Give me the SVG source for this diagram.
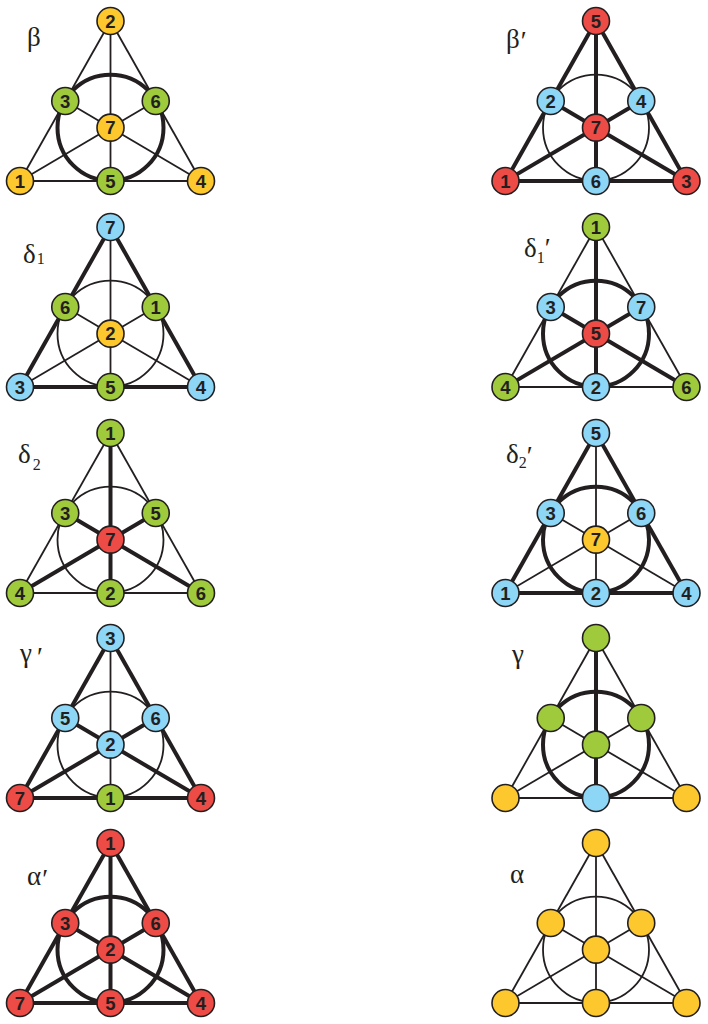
<svg xmlns="http://www.w3.org/2000/svg" width="708" height="1024" viewBox="0 0 708 1024">
<style>
.t{stroke:#231f20;stroke-width:1.8;fill:none}
.k{stroke:#231f20;stroke-width:4;fill:none}
.n circle{stroke:#231f20;stroke-width:1.6}
.y{fill:#fcc82e}.g{fill:#9fca3c}.b{fill:#8dd6f6}.r{fill:#ed4b45}
.n text{font-family:"Liberation Sans",Arial,sans-serif;font-weight:bold;font-size:18.5px;text-anchor:middle;fill:#231f20}
.lbl{font-family:"Liberation Serif","Times New Roman",serif;font-size:27px;fill:#231f20}
.sub{font-family:"Liberation Serif","Times New Roman",serif;font-size:16px;fill:#231f20}
</style>
<rect width="708" height="1024" fill="#ffffff"/>
<g id="connectors">
 <g id="c-beta" transform="translate(20,21)">
  <path class="t" d="M90.5 0L0 160"/><path class="t" d="M90.5 0L181 160"/><path class="t" d="M0 160H181"/>
  <path class="t" d="M90.5 0V160"/><path class="t" d="M0 160L135.75 80"/><path class="t" d="M181 160L45.25 80"/>
  <circle class="k" cx="90.5" cy="106.67" r="53"/>
 </g>
 <g id="c-betap" transform="translate(505.5,21)">
  <path class="k" d="M90.5 0L0 160"/><path class="k" d="M90.5 0L181 160"/><path class="k" d="M0 160H181"/>
  <path class="k" d="M90.5 0V160"/><path class="k" d="M0 160L135.75 80"/><path class="k" d="M181 160L45.25 80"/>
  <circle class="t" cx="90.5" cy="106.67" r="53"/>
 </g>
 <g id="c-delta1" transform="translate(20,227)">
  <path class="k" d="M90.5 0L0 160"/><path class="k" d="M90.5 0L181 160"/><path class="k" d="M0 160H181"/>
  <path class="t" d="M90.5 0V160"/><path class="t" d="M0 160L135.75 80"/><path class="t" d="M181 160L45.25 80"/>
  <circle class="t" cx="90.5" cy="106.67" r="53"/>
 </g>
 <g id="c-delta1p" transform="translate(505.5,227)">
  <path class="t" d="M90.5 0L0 160"/><path class="t" d="M90.5 0L181 160"/><path class="t" d="M0 160H181"/>
  <path class="k" d="M90.5 0V160"/><path class="k" d="M0 160L135.75 80"/><path class="k" d="M181 160L45.25 80"/>
  <circle class="k" cx="90.5" cy="106.67" r="53"/>
 </g>
 <g id="c-delta2" transform="translate(20,433)">
  <path class="t" d="M90.5 0L0 160"/><path class="t" d="M90.5 0L181 160"/><path class="t" d="M0 160H181"/>
  <path class="k" d="M90.5 0V160"/><path class="k" d="M0 160L135.75 80"/><path class="k" d="M181 160L45.25 80"/>
  <circle class="t" cx="90.5" cy="106.67" r="53"/>
 </g>
 <g id="c-delta2p" transform="translate(505.5,433)">
  <path class="k" d="M90.5 0L0 160"/><path class="k" d="M90.5 0L181 160"/><path class="k" d="M0 160H181"/>
  <path class="t" d="M90.5 0V160"/><path class="t" d="M0 160L135.75 80"/><path class="t" d="M181 160L45.25 80"/>
  <circle class="k" cx="90.5" cy="106.67" r="53"/>
 </g>
 <g id="c-gammap" transform="translate(20,638)">
  <path class="k" d="M90.5 0L0 160"/><path class="k" d="M90.5 0L181 160"/><path class="k" d="M0 160H181"/>
  <path class="t" d="M90.5 0V160"/><path class="k" d="M0 160L135.75 80"/><path class="k" d="M181 160L45.25 80"/>
  <circle class="t" cx="90.5" cy="106.67" r="53"/>
 </g>
 <g id="c-gamma" transform="translate(505.5,638)">
  <path class="t" d="M90.5 0L0 160"/><path class="t" d="M90.5 0L181 160"/><path class="t" d="M0 160H181"/>
  <path class="k" d="M90.5 0V160"/><path class="t" d="M0 160L135.75 80"/><path class="t" d="M181 160L45.25 80"/>
  <circle class="k" cx="90.5" cy="106.67" r="53"/>
 </g>
 <g id="c-alphap" transform="translate(20,843)">
  <path class="k" d="M90.5 0L0 160"/><path class="k" d="M90.5 0L181 160"/><path class="k" d="M0 160H181"/>
  <path class="k" d="M90.5 0V160"/><path class="k" d="M0 160L135.75 80"/><path class="k" d="M181 160L45.25 80"/>
  <circle class="k" cx="90.5" cy="106.67" r="53"/>
 </g>
 <g id="c-alpha" transform="translate(505.5,843)">
  <path class="t" d="M90.5 0L0 160"/><path class="t" d="M90.5 0L181 160"/><path class="t" d="M0 160H181"/>
  <path class="t" d="M90.5 0V160"/><path class="t" d="M0 160L135.75 80"/><path class="t" d="M181 160L45.25 80"/>
  <circle class="t" cx="90.5" cy="106.67" r="53"/>
 </g>
</g>

<g id="beta" transform="translate(20,21)">
 <g id="beta-2" class="n"><circle class="y" cx="90.5" cy="0" r="13.5"/><text x="90.5" y="6.6">2</text></g>
 <g id="beta-3" class="n"><circle class="g" cx="45.25" cy="80" r="13.5"/><text x="45.25" y="86.6">3</text></g>
 <g id="beta-6" class="n"><circle class="g" cx="135.75" cy="80" r="13.5"/><text x="135.75" y="86.6">6</text></g>
 <g id="beta-7" class="n"><circle class="y" cx="90.5" cy="106.67" r="13.5"/><text x="90.5" y="113.2">7</text></g>
 <g id="beta-1" class="n"><circle class="y" cx="0" cy="160" r="13.5"/><text x="0" y="166.6">1</text></g>
 <g id="beta-5" class="n"><circle class="g" cx="90.5" cy="160" r="13.5"/><text x="90.5" y="166.6">5</text></g>
 <g id="beta-4" class="n"><circle class="y" cx="181" cy="160" r="13.5"/><text x="181" y="166.6">4</text></g>
</g>
<g id="betap" transform="translate(505.5,21)">
 <g id="betap-5" class="n"><circle class="r" cx="90.5" cy="0" r="13.5"/><text x="90.5" y="6.6">5</text></g>
 <g id="betap-2" class="n"><circle class="b" cx="45.25" cy="80" r="13.5"/><text x="45.25" y="86.6">2</text></g>
 <g id="betap-4" class="n"><circle class="b" cx="135.75" cy="80" r="13.5"/><text x="135.75" y="86.6">4</text></g>
 <g id="betap-7" class="n"><circle class="r" cx="90.5" cy="106.67" r="13.5"/><text x="90.5" y="113.2">7</text></g>
 <g id="betap-1" class="n"><circle class="r" cx="0" cy="160" r="13.5"/><text x="0" y="166.6">1</text></g>
 <g id="betap-6" class="n"><circle class="b" cx="90.5" cy="160" r="13.5"/><text x="90.5" y="166.6">6</text></g>
 <g id="betap-3" class="n"><circle class="r" cx="181" cy="160" r="13.5"/><text x="181" y="166.6">3</text></g>
</g>
<g id="delta1" transform="translate(20,227)">
 <g id="delta1-7" class="n"><circle class="b" cx="90.5" cy="0" r="13.5"/><text x="90.5" y="6.6">7</text></g>
 <g id="delta1-6" class="n"><circle class="g" cx="45.25" cy="80" r="13.5"/><text x="45.25" y="86.6">6</text></g>
 <g id="delta1-1" class="n"><circle class="g" cx="135.75" cy="80" r="13.5"/><text x="135.75" y="86.6">1</text></g>
 <g id="delta1-2" class="n"><circle class="y" cx="90.5" cy="106.67" r="13.5"/><text x="90.5" y="113.2">2</text></g>
 <g id="delta1-3" class="n"><circle class="b" cx="0" cy="160" r="13.5"/><text x="0" y="166.6">3</text></g>
 <g id="delta1-5" class="n"><circle class="g" cx="90.5" cy="160" r="13.5"/><text x="90.5" y="166.6">5</text></g>
 <g id="delta1-4" class="n"><circle class="b" cx="181" cy="160" r="13.5"/><text x="181" y="166.6">4</text></g>
</g>
<g id="delta1p" transform="translate(505.5,227)">
 <g id="delta1p-1" class="n"><circle class="g" cx="90.5" cy="0" r="13.5"/><text x="90.5" y="6.6">1</text></g>
 <g id="delta1p-3" class="n"><circle class="b" cx="45.25" cy="80" r="13.5"/><text x="45.25" y="86.6">3</text></g>
 <g id="delta1p-7" class="n"><circle class="b" cx="135.75" cy="80" r="13.5"/><text x="135.75" y="86.6">7</text></g>
 <g id="delta1p-5" class="n"><circle class="r" cx="90.5" cy="106.67" r="13.5"/><text x="90.5" y="113.2">5</text></g>
 <g id="delta1p-4" class="n"><circle class="g" cx="0" cy="160" r="13.5"/><text x="0" y="166.6">4</text></g>
 <g id="delta1p-2" class="n"><circle class="b" cx="90.5" cy="160" r="13.5"/><text x="90.5" y="166.6">2</text></g>
 <g id="delta1p-6" class="n"><circle class="g" cx="181" cy="160" r="13.5"/><text x="181" y="166.6">6</text></g>
</g>
<g id="delta2" transform="translate(20,433)">
 <g id="delta2-1" class="n"><circle class="g" cx="90.5" cy="0" r="13.5"/><text x="90.5" y="6.6">1</text></g>
 <g id="delta2-3" class="n"><circle class="g" cx="45.25" cy="80" r="13.5"/><text x="45.25" y="86.6">3</text></g>
 <g id="delta2-5" class="n"><circle class="g" cx="135.75" cy="80" r="13.5"/><text x="135.75" y="86.6">5</text></g>
 <g id="delta2-7" class="n"><circle class="r" cx="90.5" cy="106.67" r="13.5"/><text x="90.5" y="113.2">7</text></g>
 <g id="delta2-4" class="n"><circle class="g" cx="0" cy="160" r="13.5"/><text x="0" y="166.6">4</text></g>
 <g id="delta2-2" class="n"><circle class="g" cx="90.5" cy="160" r="13.5"/><text x="90.5" y="166.6">2</text></g>
 <g id="delta2-6" class="n"><circle class="g" cx="181" cy="160" r="13.5"/><text x="181" y="166.6">6</text></g>
</g>
<g id="delta2p" transform="translate(505.5,433)">
 <g id="delta2p-5" class="n"><circle class="b" cx="90.5" cy="0" r="13.5"/><text x="90.5" y="6.6">5</text></g>
 <g id="delta2p-3" class="n"><circle class="b" cx="45.25" cy="80" r="13.5"/><text x="45.25" y="86.6">3</text></g>
 <g id="delta2p-6" class="n"><circle class="b" cx="135.75" cy="80" r="13.5"/><text x="135.75" y="86.6">6</text></g>
 <g id="delta2p-7" class="n"><circle class="y" cx="90.5" cy="106.67" r="13.5"/><text x="90.5" y="113.2">7</text></g>
 <g id="delta2p-1" class="n"><circle class="b" cx="0" cy="160" r="13.5"/><text x="0" y="166.6">1</text></g>
 <g id="delta2p-2" class="n"><circle class="b" cx="90.5" cy="160" r="13.5"/><text x="90.5" y="166.6">2</text></g>
 <g id="delta2p-4" class="n"><circle class="b" cx="181" cy="160" r="13.5"/><text x="181" y="166.6">4</text></g>
</g>
<g id="gammap" transform="translate(20,638)">
 <g id="gammap-3" class="n"><circle class="b" cx="90.5" cy="0" r="13.5"/><text x="90.5" y="6.6">3</text></g>
 <g id="gammap-5" class="n"><circle class="b" cx="45.25" cy="80" r="13.5"/><text x="45.25" y="86.6">5</text></g>
 <g id="gammap-6" class="n"><circle class="b" cx="135.75" cy="80" r="13.5"/><text x="135.75" y="86.6">6</text></g>
 <g id="gammap-2" class="n"><circle class="b" cx="90.5" cy="106.67" r="13.5"/><text x="90.5" y="113.2">2</text></g>
 <g id="gammap-7" class="n"><circle class="r" cx="0" cy="160" r="13.5"/><text x="0" y="166.6">7</text></g>
 <g id="gammap-1" class="n"><circle class="g" cx="90.5" cy="160" r="13.5"/><text x="90.5" y="166.6">1</text></g>
 <g id="gammap-4" class="n"><circle class="r" cx="181" cy="160" r="13.5"/><text x="181" y="166.6">4</text></g>
</g>
<g id="gamma" transform="translate(505.5,638)">
 <g id="gamma-top" class="n"><circle class="g" cx="90.5" cy="0" r="13.5"/></g>
 <g id="gamma-lm" class="n"><circle class="g" cx="45.25" cy="80" r="13.5"/></g>
 <g id="gamma-rm" class="n"><circle class="g" cx="135.75" cy="80" r="13.5"/></g>
 <g id="gamma-c" class="n"><circle class="g" cx="90.5" cy="106.67" r="13.5"/></g>
 <g id="gamma-bl" class="n"><circle class="y" cx="0" cy="160" r="13.5"/></g>
 <g id="gamma-bm" class="n"><circle class="b" cx="90.5" cy="160" r="13.5"/></g>
 <g id="gamma-br" class="n"><circle class="y" cx="181" cy="160" r="13.5"/></g>
</g>
<g id="alphap" transform="translate(20,843)">
 <g id="alphap-1" class="n"><circle class="r" cx="90.5" cy="0" r="13.5"/><text x="90.5" y="6.6">1</text></g>
 <g id="alphap-3" class="n"><circle class="r" cx="45.25" cy="80" r="13.5"/><text x="45.25" y="86.6">3</text></g>
 <g id="alphap-6" class="n"><circle class="r" cx="135.75" cy="80" r="13.5"/><text x="135.75" y="86.6">6</text></g>
 <g id="alphap-2" class="n"><circle class="r" cx="90.5" cy="106.67" r="13.5"/><text x="90.5" y="113.2">2</text></g>
 <g id="alphap-7" class="n"><circle class="r" cx="0" cy="160" r="13.5"/><text x="0" y="166.6">7</text></g>
 <g id="alphap-5" class="n"><circle class="r" cx="90.5" cy="160" r="13.5"/><text x="90.5" y="166.6">5</text></g>
 <g id="alphap-4" class="n"><circle class="r" cx="181" cy="160" r="13.5"/><text x="181" y="166.6">4</text></g>
</g>
<g id="alpha" transform="translate(505.5,843)">
 <g id="alpha-top" class="n"><circle class="y" cx="90.5" cy="0" r="13.5"/></g>
 <g id="alpha-lm" class="n"><circle class="y" cx="45.25" cy="80" r="13.5"/></g>
 <g id="alpha-rm" class="n"><circle class="y" cx="135.75" cy="80" r="13.5"/></g>
 <g id="alpha-c" class="n"><circle class="y" cx="90.5" cy="106.67" r="13.5"/></g>
 <g id="alpha-bl" class="n"><circle class="y" cx="0" cy="160" r="13.5"/></g>
 <g id="alpha-bm" class="n"><circle class="y" cx="90.5" cy="160" r="13.5"/></g>
 <g id="alpha-br" class="n"><circle class="y" cx="181" cy="160" r="13.5"/></g>
</g>

<g id="labels">
 <text class="lbl" x="27" y="46">β</text>
 <text class="lbl" x="506" y="48">β<tspan dx="1" dy="2">′</tspan></text>
 <text class="lbl" x="23" y="263">δ<tspan class="sub" dx="1" dy="1">1</tspan></text>
 <text class="lbl" x="524" y="257">δ<tspan class="sub" dy="6">1</tspan><tspan dx="0" dy="-6">′</tspan></text>
 <text class="lbl" x="18" y="463">δ<tspan class="sub" dx="2" dy="7">2</tspan></text>
 <text class="lbl" x="506" y="463">δ<tspan class="sub" dy="5">2</tspan><tspan dx="0" dy="-3">′</tspan></text>
 <text class="lbl" x="20" y="662">γ<tspan dx="5" dy="4">′</tspan></text>
 <text class="lbl" x="512" y="663">γ</text>
 <text class="lbl" x="27" y="885">α<tspan dx="1" dy="3">′</tspan></text>
 <text class="lbl" x="510" y="883">α</text>
</g>
</svg>
